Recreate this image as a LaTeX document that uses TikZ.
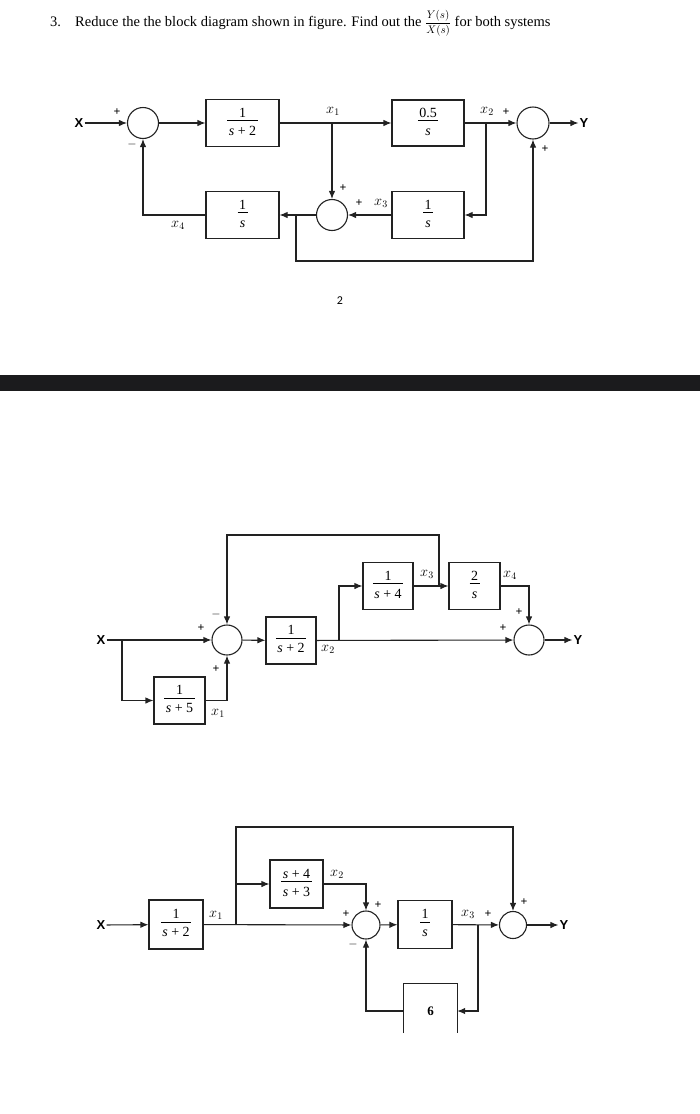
\documentclass[tikz,border=0pt]{standalone}
\usepackage{amsmath}
\usepackage{fontspec}
\setmainfont{Liberation Serif}
\newfontfamily\labsans{Liberation Sans}
\newfontfamily\pagefont{Carlito}
\usetikzlibrary{arrows.meta,calc}
\definecolor{barcol}{HTML}{1B1B1D}
\definecolor{linecol}{HTML}{222222}
\newcommand{\fr}[2]{{\setlength{\tabcolsep}{1.5pt}\renewcommand{\arraystretch}{0.6}\begin{tabular}{c}#1\\\hline\rule{0pt}{14.5pt}#2\end{tabular}}}
\tikzset{
  blk/.style={draw=linecol, line width=1.1pt, inner sep=0pt, font=\fontsize{14}{16}\selectfont},
  sumc/.style={circle, draw=linecol, line width=1.1pt, inner sep=0pt},
  arr/.style={draw=linecol, line width=1.1pt, -{Latex[length=8pt,width=6.5pt]}},
  ln/.style={draw=linecol, line width=1.1pt},
  sig/.style={font=\fontsize{12}{12}\selectfont\bfseries, inner sep=0pt},
  var/.style={font=\fontsize{14}{14}\selectfont, inner sep=0pt},
  io/.style={font=\labsans\fontsize{13}{13}\selectfont\bfseries, inner sep=1pt}
}
\begin{document}
\begin{tikzpicture}[x=1pt,y=-1pt]
\useasboundingbox (0,0) rectangle (700,1114);
% ---------- title ----------
\node[anchor=base west, inner sep=0pt, font=\fontsize{14.5}{16}\selectfont] (num) at (50,26) {3.};
\node[anchor=base west, inner sep=0pt, font=\fontsize{14.5}{16}\selectfont] (title) at (75,26)
  {Reduce the the block diagram shown in figure. Find out the {\fontsize{10.5}{10.5}\selectfont$\dfrac{Y(s)}{X(s)}$} for both systems};
% ---------- system 1 ----------
\node[io] (X1) at (79,123) {X};
\node[sumc, minimum size=31pt] (s1) at (143,123) {};
\node[blk, minimum width=73pt, minimum height=47pt] (b1) at (242.5,123) {\fr{1}{\textit{s} + 2}};
\coordinate (j1) at (332,123);
\node[blk, minimum width=72pt, minimum height=46pt] (b2) at (428,123) {\fr{0.5}{\textit{s}}};
\coordinate (j2) at (486,123);
\node[sumc, minimum size=32pt] (s2) at (533,123) {};
\node[io] (Y1) at (584,123) {Y};
\node[sumc, minimum size=31pt] (s3) at (332,215) {};
\node[blk, minimum width=72pt, minimum height=47pt] (b3) at (428,215) {\fr{1}{\textit{s}}};
\node[blk, minimum width=73pt, minimum height=47pt] (b4) at (242.5,215) {\fr{1}{\textit{s}}};
\coordinate (j4) at (296,215);
\coordinate (fb1) at (296,261);
\draw[arr] (X1) -- (s1);
\draw[arr] (s1) -- (b1);
\draw[arr] (b1) -- (b2);
\draw[arr] (b2) -- (s2);
\draw[arr] (s2) -- (Y1);
\draw[arr] (j1) -- (s3);
\draw[arr] (j2) |- (b3);
\draw[arr] (b3) -- (s3);
\draw[arr] (s3) -- (b4);
\draw[arr] (b4) -| (s1.south);
\draw[arr] (j4) -- (fb1) -| (s2.south);
\node[var] (v11) at (333,111) {$x_1$};
\node[var] (v12) at (487,111) {$x_2$};
\node[var] (v13) at (381,203) {$x_3$};
\node[var] (v14) at (178,225) {$x_4$};
\node[sig] (p11) at (117,112) {+};
\node[sig] (m11) at (132,144) {$-$};
\node[sig] (p12) at (506,112) {+};
\node[sig] (p13) at (545,149) {+};
\node[sig] (p14) at (343,188) {+};
\node[sig] (p15) at (359,203) {+};
\node[inner sep=0pt, font=\pagefont\fontsize{12}{12}\selectfont] (pg) at (340,301) {2};
% ---------- bar ----------
\fill[barcol] (0,375) rectangle (700,391);
% ---------- system 2 ----------
\node[io] (X2) at (101,640) {X};
\coordinate (jm) at (122,640);
\node[sumc, minimum size=30pt] (m1) at (227,640) {};
\node[blk, minimum width=51pt, minimum height=47pt] (bm1) at (179.5,700.5) {\fr{1}{\textit{s} + 5}};
\node[blk, minimum width=50pt, minimum height=47pt] (bm2) at (291,640.5) {\fr{1}{\textit{s} + 2}};
\coordinate (jm2) at (339,640);
\node[blk, minimum width=50pt, minimum height=47pt] (bm3) at (388,586) {\fr{1}{\textit{s} + 4}};
\node[blk, minimum width=51pt, minimum height=47pt] (bm4) at (474.5,586) {\fr{2}{\textit{s}}};
\coordinate (jm3) at (439,586);
\coordinate (fbm) at (439,535);
\node[sumc, minimum size=30pt] (mo) at (529,640) {};
\node[io] (Y2) at (578,640) {Y};
\draw[arr] (X2) -- (m1);
\draw[arr] (jm) |- (bm1);
\draw[arr] (bm1) -| (m1.south);
\draw[arr] (jm3) -- (fbm) -| (m1.north);
\draw[arr] (m1) -- (bm2);
\draw[arr] (bm2) -- (mo);
\draw[arr] (jm2) |- (bm3);
\draw[arr] (bm3) -- (bm4);
\draw[arr] (bm4) -| (mo.north);
\draw[arr] (mo) -- (Y2);
\node[var] (v21) at (218,713) {$x_1$};
\node[var] (v22) at (328,649) {$x_2$};
\node[var] (v23) at (427,574) {$x_3$};
\node[var] (v24) at (510,575) {$x_4$};
\node[sig] (p21) at (201,628) {+};
\node[sig] (p22) at (216,669) {+};
\node[sig] (m21) at (216,614) {$-$};
\node[sig] (p23) at (519,612) {+};
\node[sig] (p24) at (503,628) {+};
% ---------- system 3 ----------
\node[io] (X3) at (101,925) {X};
\node[blk, minimum width=54pt, minimum height=49pt] (bb1) at (176,924.5) {\fr{1}{\textit{s} + 2}};
\coordinate (jb1) at (236,925);
\coordinate (tb) at (236,827);
\coordinate (jb2) at (236,884);
\node[blk, minimum width=53pt, minimum height=48pt] (bb2) at (296.5,884) {\fr{\textit{s} + 4}{\textit{s} + 3}};
\node[sumc, minimum size=28pt] (sa) at (366,925) {};
\node[blk, minimum width=54pt, minimum height=48pt] (bb3) at (425,924.5) {\fr{1}{\textit{s}}};
\coordinate (jb3) at (478,925);
\node[sumc, minimum size=27pt] (sb) at (513,925) {};
\node[io] (Y3) at (564,925) {Y};
\node[inner sep=0pt, minimum width=53pt, minimum height=54pt, font=\fontsize{13}{13}\selectfont\bfseries] (bb4) at (430.5,1011) {6};
\draw[ln] ([yshift=5pt]bb4.south west) |- (bb4.north east) -- ([yshift=5pt]bb4.south east);
\draw[arr] (X3) -- (bb1);
\draw[arr] (bb1) -- (sa);
\draw[arr] (jb1) -- (tb) -| (sb.north);
\draw[arr] (jb2) -- (bb2);
\draw[arr] (bb2) -| (sa.north);
\draw[arr] (sa) -- (bb3);
\draw[arr] (bb3) -- (sb);
\draw[arr] (jb3) |- (bb4);
\draw[arr] (bb4) -| (sa.south);
\draw[arr] (sb) -- (Y3);
\node[var] (v31) at (216,915) {$x_1$};
\node[var] (v32) at (337,874) {$x_2$};
\node[var] (v33) at (468,914) {$x_3$};
\node[sig] (p31) at (378,905) {+};
\node[sig] (p32) at (346,914) {+};
\node[sig] (m31) at (353,944) {$-$};
\node[sig] (p33) at (524,902) {+};
\node[sig] (p34) at (488,914) {+};
\end{tikzpicture}
\end{document}
